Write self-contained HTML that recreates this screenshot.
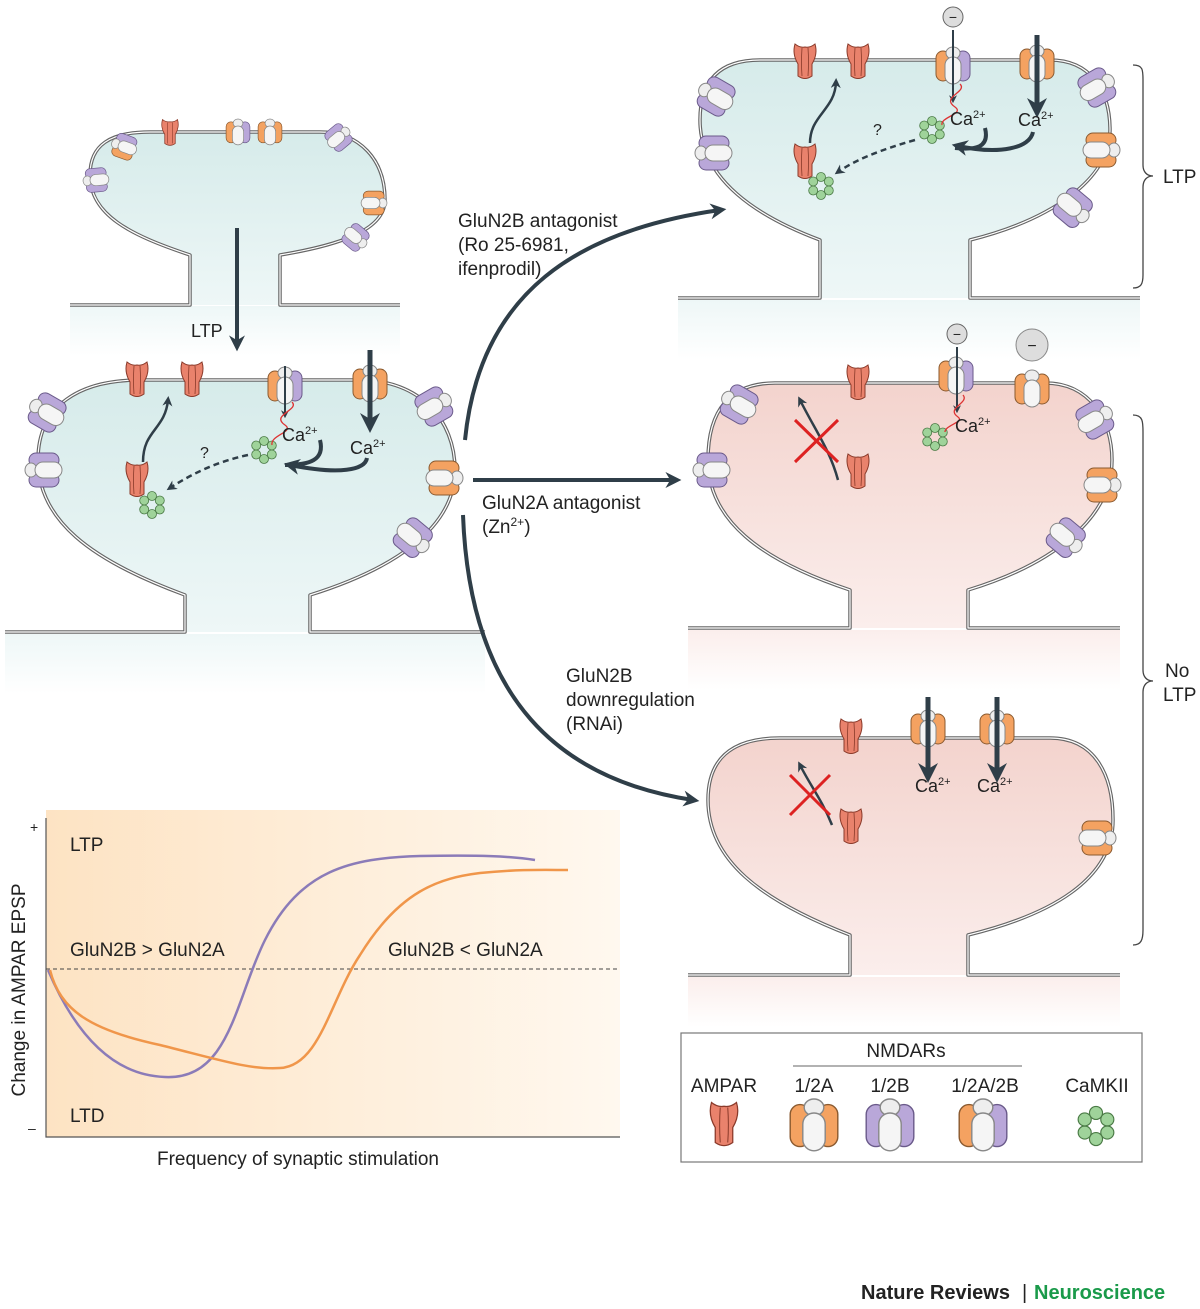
<!DOCTYPE html>
<html><head><meta charset="utf-8"><style>
html,body{margin:0;padding:0;background:#fff}
svg{display:block}
text{font-family:"Liberation Sans",sans-serif;fill:#222}
</style></head><body>
<svg width="1200" height="1309" viewBox="0 0 1200 1309" xmlns="http://www.w3.org/2000/svg">
<defs>
<linearGradient id="teal" x1="0" y1="0" x2="0" y2="1"><stop offset="0" stop-color="#d6ebea"/><stop offset="1" stop-color="#eef7f7"/></linearGradient>
<linearGradient id="pink" x1="0" y1="0" x2="0" y2="1"><stop offset="0" stop-color="#f3d3cd"/><stop offset="1" stop-color="#fbeeec"/></linearGradient>
<linearGradient id="fadeT" x1="0" y1="0" x2="0" y2="1"><stop offset="0" stop-color="#eef7f7"/><stop offset="1" stop-color="#fff"/></linearGradient>
<linearGradient id="fadeP" x1="0" y1="0" x2="0" y2="1"><stop offset="0" stop-color="#fbeeec"/><stop offset="1" stop-color="#fff"/></linearGradient>
<linearGradient id="peach" x1="0" y1="0" x2="1" y2="0"><stop offset="0" stop-color="#fde3c3"/><stop offset="1" stop-color="#fff8ef"/></linearGradient>
<marker id="ah" viewBox="0 0 10 10" refX="6" refY="5" markerWidth="4" markerHeight="4" orient="auto"><path d="M0,0 L10,5 L0,10 L3,5Z" fill="#2f3e48"/></marker>
<g id="amp"><path d="M-10,-18 Q-13,-8 -7,2 L-7,14 Q0,19 7,14 L7,2 Q13,-8 10,-18 Q5,-14 0,-15 Q-5,-14 -10,-18Z" fill="#e9826c" stroke="#8a3a2a" stroke-width="1"/><path d="M-3,-14 Q-4,0 -3,14 M3,-14 Q4,0 3,14" stroke="#8a3a2a" stroke-width="0.8" fill="none"/></g>
<g id="nA"><rect x="-17" y="-16" width="14" height="30" rx="7" fill="#f4a261" stroke="#8a5a30"/><rect x="3" y="-16" width="14" height="30" rx="7" fill="#f4a261" stroke="#8a5a30"/><ellipse cx="0" cy="-14" rx="7" ry="6" fill="#eee" stroke="#888"/><rect x="-8" y="-10" width="16" height="27" rx="8" fill="#f5f5f5" stroke="#888"/></g>
<g id="nB"><rect x="-17" y="-16" width="14" height="30" rx="7" fill="#b9a7d9" stroke="#6a5a8a"/><rect x="3" y="-16" width="14" height="30" rx="7" fill="#b9a7d9" stroke="#6a5a8a"/><ellipse cx="0" cy="-14" rx="7" ry="6" fill="#eee" stroke="#888"/><rect x="-8" y="-10" width="16" height="27" rx="8" fill="#f5f5f5" stroke="#888"/></g>
<g id="nAB"><rect x="-17" y="-16" width="14" height="30" rx="7" fill="#f4a261" stroke="#8a5a30"/><rect x="3" y="-16" width="14" height="30" rx="7" fill="#b9a7d9" stroke="#6a5a8a"/><ellipse cx="0" cy="-14" rx="7" ry="6" fill="#eee" stroke="#888"/><rect x="-8" y="-10" width="16" height="27" rx="8" fill="#f5f5f5" stroke="#888"/></g>
<g id="cam" fill="#9fd39a" stroke="#4a7a45" stroke-width="0.8"><circle cx="0" cy="-9" r="4.5"/><circle cx="7.8" cy="-4.5" r="4.5"/><circle cx="7.8" cy="4.5" r="4.5"/><circle cx="0" cy="9" r="4.5"/><circle cx="-7.8" cy="4.5" r="4.5"/><circle cx="-7.8" cy="-4.5" r="4.5"/></g>
</defs>

<rect x="70" y="306" width="330" height="50" fill="url(#fadeT)"/>
<rect x="5" y="634" width="480" height="60" fill="url(#fadeT)"/>
<rect x="678" y="300" width="462" height="60" fill="url(#fadeT)"/>
<rect x="688" y="630" width="432" height="60" fill="url(#fadeP)"/>
<rect x="688" y="977" width="432" height="50" fill="url(#fadeP)"/>

<g stroke-linejoin="round">
<path d="M70,305 H190 V255 C130,235 90,215 90,175 C90,145 110,132 150,132 H320 C360,132 385,160 385,200 C385,230 340,245 280,255 V305 H400" fill="url(#teal)" stroke="#666" stroke-width="3.5"/>
<path d="M70,305 H190 V255 C130,235 90,215 90,175 C90,145 110,132 150,132 H320 C360,132 385,160 385,200 C385,230 340,245 280,255 V305 H400" fill="none" stroke="#fff" stroke-width="1.2"/>
<path d="M5,632 H185 V595 C90,560 38,520 38,460 C38,405 80,380 140,380 H360 C420,380 455,420 455,470 C455,530 390,570 310,595 V632 H485" fill="url(#teal)" stroke="#666" stroke-width="3.5"/>
<path d="M5,632 H185 V595 C90,560 38,520 38,460 C38,405 80,380 140,380 H360 C420,380 455,420 455,470 C455,530 390,570 310,595 V632 H485" fill="none" stroke="#fff" stroke-width="1.2"/>
<path d="M678,298 H820 V240 C740,210 700,170 700,120 C700,80 720,60 760,60 H1050 C1090,60 1110,90 1110,130 C1110,180 1050,220 970,240 V298 H1140" fill="url(#teal)" stroke="#666" stroke-width="3.5"/>
<path d="M678,298 H820 V240 C740,210 700,170 700,120 C700,80 720,60 760,60 H1050 C1090,60 1110,90 1110,130 C1110,180 1050,220 970,240 V298 H1140" fill="none" stroke="#fff" stroke-width="1.2"/>
<path d="M688,628 H850 V590 C760,560 708,520 708,460 C708,410 730,383 775,383 H1045 C1090,383 1112,420 1112,460 C1112,520 1050,565 968,590 V628 H1120" fill="url(#pink)" stroke="#666" stroke-width="3.5"/>
<path d="M688,628 H850 V590 C760,560 708,520 708,460 C708,410 730,383 775,383 H1045 C1090,383 1112,420 1112,460 C1112,520 1050,565 968,590 V628 H1120" fill="none" stroke="#fff" stroke-width="1.2"/>
<path d="M688,975 H850 V935 C760,900 708,860 708,800 C708,760 730,738 780,738 H1050 C1095,738 1113,775 1113,820 C1113,880 1050,915 968,935 V975 H1120" fill="url(#pink)" stroke="#666" stroke-width="3.5"/>
<path d="M688,975 H850 V935 C760,900 708,860 708,800 C708,760 730,738 780,738 H1050 C1095,738 1113,775 1113,820 C1113,880 1050,915 968,935 V975 H1120" fill="none" stroke="#fff" stroke-width="1.2"/>
</g>

<use href="#amp" transform="translate(170,133) scale(0.75)"/>
<use href="#nAB" transform="translate(238,133) scale(0.7)"/>
<use href="#nA" transform="translate(270,133) scale(0.7)"/>
<use href="#nAB" transform="translate(125,147) rotate(-70) scale(0.7)"/>
<use href="#nB" transform="translate(338,138) rotate(50) scale(0.7)"/>
<use href="#nB" transform="translate(97,180) rotate(-95) scale(0.7)"/>
<use href="#nA" transform="translate(373,203) rotate(90) scale(0.7)"/>
<use href="#nB" transform="translate(355,237) rotate(130) scale(0.7)"/>

<use href="#amp" transform="translate(137,380)"/>
<use href="#amp" transform="translate(192,380)"/>
<use href="#nAB" transform="translate(285,387)"/>
<use href="#nA" transform="translate(370,385)"/>
<use href="#nB" transform="translate(48,413) rotate(-60)"/>
<use href="#nB" transform="translate(45,470) rotate(-90)"/>
<use href="#nB" transform="translate(433,407) rotate(60)"/>
<use href="#nA" transform="translate(443,478) rotate(90)"/>
<use href="#nB" transform="translate(412,537) rotate(130)"/>
<use href="#amp" transform="translate(137,480)"/>
<use href="#cam" transform="translate(152,505)"/>
<use href="#cam" transform="translate(264,450)"/>
<path d="M285,366 V415" stroke="#2f3e48" stroke-width="2" marker-end="url(#ah)"/>
<path d="M370,350 V425" stroke="#2f3e48" stroke-width="5" marker-end="url(#ah)"/>
<path d="M292,402 C300,410 270,415 285,425 C295,432 270,435 272,445" stroke="#d33" stroke-width="1.3" fill="none"/>
<path d="M143,462 C143,430 165,430 168,400" stroke="#2f3e48" stroke-width="2.5" fill="none" marker-end="url(#ah)"/>
<path d="M248,455 C215,462 190,475 170,488" stroke="#2f3e48" stroke-width="2.5" stroke-dasharray="6,4" fill="none" marker-end="url(#ah)"/>
<path d="M320,440 C325,460 310,465 285,465 M367,458 C365,470 340,475 290,465" stroke="#2f3e48" stroke-width="4" fill="none" marker-end="url(#ah)"/>
<text x="282" y="441" font-size="18">Ca<tspan font-size="11" dy="-7">2+</tspan></text>
<text x="350" y="454" font-size="18">Ca<tspan font-size="11" dy="-7">2+</tspan></text>
<text x="200" y="458" font-size="16">?</text>

<use href="#amp" transform="translate(805,62)"/>
<use href="#amp" transform="translate(858,62)"/>
<use href="#nAB" transform="translate(953,67)"/>
<use href="#nA" transform="translate(1037,65)"/>
<use href="#nB" transform="translate(717,97) rotate(-60)"/>
<use href="#nB" transform="translate(715,153) rotate(-90)"/>
<use href="#nB" transform="translate(1096,88) rotate(60)"/>
<use href="#nA" transform="translate(1100,150) rotate(90)"/>
<use href="#nB" transform="translate(1072,207) rotate(130)"/>
<use href="#amp" transform="translate(805,162)"/>
<use href="#cam" transform="translate(821,186)"/>
<use href="#cam" transform="translate(932,130)"/>
<circle cx="953" cy="17" r="10" fill="#ddd" stroke="#666"/><text x="953" y="22" font-size="14" text-anchor="middle">−</text>
<path d="M953,30 V100" stroke="#2f3e48" stroke-width="2" marker-end="url(#ah)"/>
<path d="M1037,35 V110" stroke="#2f3e48" stroke-width="5" marker-end="url(#ah)"/>
<path d="M960,84 C968,92 940,97 955,107 C965,114 940,117 942,125" stroke="#d33" stroke-width="1.3" fill="none"/>
<path d="M810,143 C810,115 835,110 836,82" stroke="#2f3e48" stroke-width="2.5" fill="none" marker-end="url(#ah)"/>
<path d="M915,140 C880,150 855,160 838,172" stroke="#2f3e48" stroke-width="2.5" stroke-dasharray="6,4" fill="none" marker-end="url(#ah)"/>
<path d="M985,128 C990,148 975,150 955,148 M1033,132 C1030,148 1000,155 958,146" stroke="#2f3e48" stroke-width="4" fill="none" marker-end="url(#ah)"/>
<text x="950" y="125" font-size="18">Ca<tspan font-size="11" dy="-7">2+</tspan></text>
<text x="1018" y="126" font-size="18">Ca<tspan font-size="11" dy="-7">2+</tspan></text>
<text x="873" y="135" font-size="16">?</text>

<use href="#amp" transform="translate(858,383)"/>
<use href="#nAB" transform="translate(956,377)"/>
<use href="#nA" transform="translate(1032,390)"/>
<use href="#nB" transform="translate(740,405) rotate(-60)"/>
<use href="#nB" transform="translate(713,470) rotate(-90)"/>
<use href="#nB" transform="translate(1094,420) rotate(60)"/>
<use href="#nA" transform="translate(1101,485) rotate(90)"/>
<use href="#nB" transform="translate(1065,537) rotate(130)"/>
<use href="#amp" transform="translate(858,472)"/>
<use href="#cam" transform="translate(935,437)"/>
<circle cx="957" cy="334" r="10" fill="#ddd" stroke="#666"/><text x="957" y="339" font-size="14" text-anchor="middle">−</text>
<circle cx="1032" cy="345" r="16" fill="#ddd" stroke="#888"/><text x="1032" y="351" font-size="16" text-anchor="middle">−</text>
<path d="M957,347 V410" stroke="#2f3e48" stroke-width="2" marker-end="url(#ah)"/>
<path d="M963,395 C970,403 945,408 958,417 C965,422 945,425 945,432" stroke="#d33" stroke-width="1.3" fill="none"/>
<path d="M838,480 C830,450 815,430 800,400" stroke="#2f3e48" stroke-width="2.5" fill="none" marker-end="url(#ah)"/>
<path d="M795,420 L838,462 M838,420 L795,462" stroke="#d22" stroke-width="3"/>
<text x="955" y="432" font-size="18">Ca<tspan font-size="11" dy="-7">2+</tspan></text>

<use href="#amp" transform="translate(851,737)"/>
<use href="#nA" transform="translate(928,730)"/>
<use href="#nA" transform="translate(997,730)"/>
<use href="#nA" transform="translate(1096,838) rotate(90)"/>
<use href="#amp" transform="translate(851,827)"/>
<path d="M928,697 V775" stroke="#2f3e48" stroke-width="5" marker-end="url(#ah)"/>
<path d="M997,697 V775" stroke="#2f3e48" stroke-width="5" marker-end="url(#ah)"/>
<path d="M832,825 C822,800 810,785 800,765" stroke="#2f3e48" stroke-width="2.5" fill="none" marker-end="url(#ah)"/>
<path d="M790,775 L830,815 M830,775 L790,815" stroke="#d22" stroke-width="3"/>
<text x="915" y="792" font-size="18">Ca<tspan font-size="11" dy="-7">2+</tspan></text>
<text x="977" y="792" font-size="18">Ca<tspan font-size="11" dy="-7">2+</tspan></text>

<g stroke="#2f3e48" stroke-width="4" fill="none" marker-end="url(#ah)">
<path d="M237,228 V345"/>
<path d="M465,440 C480,290 580,230 720,210"/>
<path d="M473,480 H675"/>
<path d="M463,515 C470,700 560,780 693,800"/>
</g>
<text x="191" y="337" font-size="18">LTP</text>
<text x="458" y="227" font-size="19">GluN2B antagonist</text>
<text x="458" y="251" font-size="19">(Ro 25-6981,</text>
<text x="458" y="275" font-size="19">ifenprodil)</text>
<text x="482" y="509" font-size="19">GluN2A antagonist</text>
<text x="482" y="533" font-size="19">(Zn<tspan font-size="12" dy="-7">2+</tspan><tspan dy="7">)</tspan></text>
<text x="566" y="682" font-size="19">GluN2B</text>
<text x="566" y="706" font-size="19">downregulation</text>
<text x="566" y="730" font-size="19">(RNAi)</text>

<path d="M1133,65 C1143,65 1143,70 1143,80 V165 C1143,172 1147,176 1153,176 C1147,176 1143,180 1143,187 V275 C1143,284 1141,288 1133,288" stroke="#444" stroke-width="1.3" fill="none"/>
<text x="1163" y="183" font-size="19">LTP</text>
<path d="M1133,415 C1143,415 1143,422 1143,432 V670 C1143,677 1147,681 1153,681 C1147,681 1143,685 1143,692 V930 C1143,940 1141,945 1133,945" stroke="#444" stroke-width="1.3" fill="none"/>
<text x="1165" y="677" font-size="19">No</text>
<text x="1163" y="701" font-size="19">LTP</text>

<rect x="46" y="810" width="574" height="327" fill="url(#peach)"/>
<path d="M46,818 V1137 H620" stroke="#555" stroke-width="1.2" fill="none"/>
<line x1="46" y1="969" x2="620" y2="969" stroke="#444" stroke-dasharray="4,3"/>
<path d="M48,970 C65,1010 100,1075 165,1077 C230,1080 235,1000 265,940 C300,870 350,858 420,856 C480,855 510,856 535,860" stroke="#8b7bb8" stroke-width="2.5" fill="none"/>
<path d="M50,970 C60,1010 90,1030 160,1045 C220,1060 250,1070 280,1068 C320,1066 330,1000 360,955 C400,890 440,878 480,873 C520,869 545,870 568,870" stroke="#f0964a" stroke-width="2.5" fill="none"/>
<text x="30" y="832" font-size="14">+</text>
<text x="28" y="1133" font-size="14">–</text>
<text x="70" y="851" font-size="19">LTP</text>
<text x="70" y="1122" font-size="19">LTD</text>
<text x="70" y="956" font-size="19">GluN2B &gt; GluN2A</text>
<text x="388" y="956" font-size="19">GluN2B &lt; GluN2A</text>
<text x="157" y="1165" font-size="19">Frequency of synaptic stimulation</text>
<text transform="translate(25,990) rotate(-90)" font-size="19" text-anchor="middle">Change in AMPAR EPSP</text>

<rect x="681" y="1033" width="461" height="129" fill="#fff" stroke="#777" stroke-width="1.2"/>
<text x="906" y="1057" font-size="19" text-anchor="middle">NMDARs</text>
<line x1="793" y1="1066" x2="1022" y2="1066" stroke="#666"/>
<text x="724" y="1092" font-size="19" text-anchor="middle">AMPAR</text>
<text x="814" y="1092" font-size="19" text-anchor="middle">1/2A</text>
<text x="890" y="1092" font-size="19" text-anchor="middle">1/2B</text>
<text x="985" y="1092" font-size="19" text-anchor="middle">1/2A/2B</text>
<text x="1097" y="1092" font-size="19" text-anchor="middle">CaMKII</text>
<use href="#amp" transform="translate(724,1125) scale(1.25)"/>
<use href="#nA" transform="translate(814,1127) scale(1.4)"/>
<use href="#nB" transform="translate(890,1127) scale(1.4)"/>
<use href="#nAB" transform="translate(983,1127) scale(1.4)"/>
<use href="#cam" transform="translate(1096,1126) scale(1.45)"/>

<text x="861" y="1299" font-size="20" font-weight="bold">Nature Reviews</text>
<text x="1022" y="1299" font-size="20" fill="#222">|</text>
<text x="1034" y="1299" font-size="20" font-weight="bold" style="fill:#1a9a4a">Neuroscience</text>
</svg>
</body></html>
